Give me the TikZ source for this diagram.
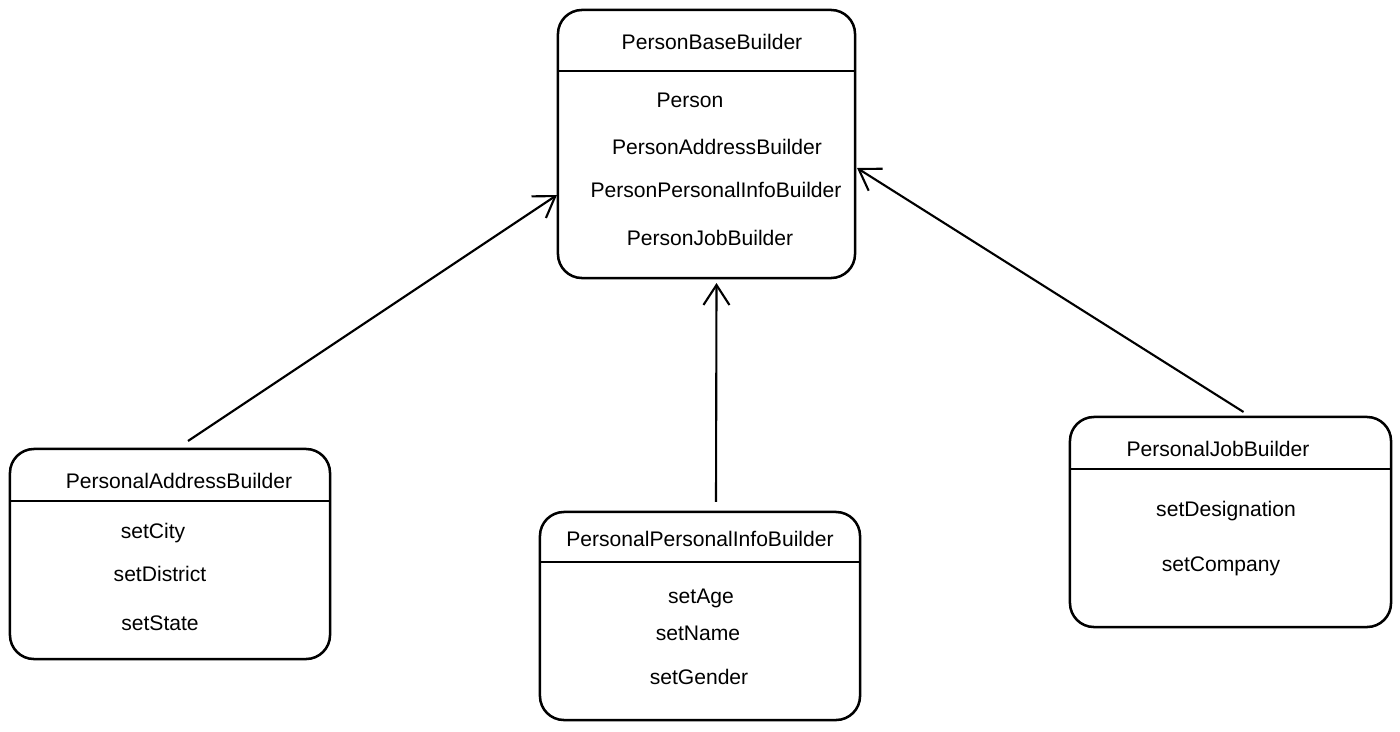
\documentclass[tikz,border=0pt]{standalone}
\usepackage{fontspec}
\setmainfont{Liberation Sans}
\usetikzlibrary{arrows.meta,calc}

\tikzset{
  box/.style={draw, line width=1.8pt, rounded corners=6mm, inner sep=0pt, outer sep=0pt},
  lbl/.style={font=\fontsize{15}{18}\selectfont, inner sep=0pt},
  arr/.style={-{Straight Barb[length=5mm,width=6.5mm,line width=1.5pt]}, line width=1.5pt}
}

\begin{document}
\begin{tikzpicture}[x=0.025cm, y=-0.025cm]
\useasboundingbox (0,0) rectangle (1400,731);
\node[box, minimum width=74.25mm, minimum height=67mm] (base) at (706.5,144) {};
\node[box, minimum width=80mm, minimum height=52.5mm] (addr) at (170,554) {};
\node[box, minimum width=80mm, minimum height=52mm] (info) at (700,616) {};
\node[box, minimum width=80.25mm, minimum height=52.5mm] (job) at (1230.5,522) {};
\draw[line width=1.8pt] (base.west |- 0,71) -- (base.east |- 0,71);
\draw[line width=1.8pt] (addr.west |- 0,501) -- (addr.east |- 0,501);
\draw[line width=1.8pt] (info.west |- 0,562) -- (info.east |- 0,562);
\draw[line width=1.8pt] (job.west |- 0,469) -- (job.east |- 0,469);
\node[lbl] (basettl) at (712,42) {PersonBaseBuilder};
\node[lbl] (person) at (690,100) {Person};
\node[lbl] (paddr) at (717,147) {PersonAddressBuilder};
\node[lbl] (pinfo) at (716,190) {PersonPersonalInfoBuilder};
\node[lbl] (pjob) at (710,238) {PersonJobBuilder};
\node[lbl] (addrttl) at (179,481) {PersonalAddressBuilder};
\node[lbl] (city) at (153,533) {setCity};
\node[lbl] (district) at (160,574) {setDistrict};
\node[lbl] (state) at (160,623) {setState};
\node[lbl] (infottl) at (700,539) {PersonalPersonalInfoBuilder};
\node[lbl] (age) at (701,598) {setAge};
\node[lbl] (name) at (698,633) {setName};
\node[lbl] (gender) at (699,677) {setGender};
\node[lbl] (jobttl) at (1218,449) {PersonalJobBuilder};
\node[lbl] (desig) at (1226,511) {setDesignation};
\node[lbl] (company) at (1221,566) {setCompany};
\draw[arr] ($(addr.north)+(18,-8)$) -- ($(base.west)+(-1,51)$);
\draw[arr] ($(info.north)+(16,-10)$) -- ($(base.south)+(10,5)$);
\draw[arr] ($(job.north)+(13,-5)$) -- ($(base.east)+(2,24)$);
\end{tikzpicture}
\end{document}
